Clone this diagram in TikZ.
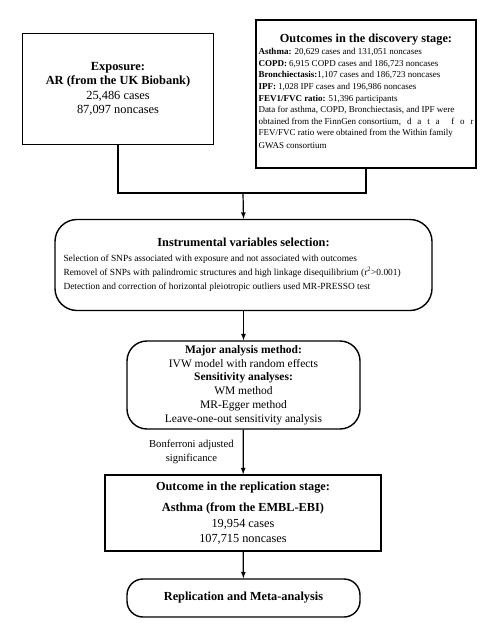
\documentclass[tikz,border=0pt]{standalone}
\usepackage{fontspec}
\setmainfont{Liberation Serif}
\usetikzlibrary{arrows}
\setlength{\parindent}{0pt}

\newcommand{\leftrow}[2]{\makebox[#1][l]{#2}}
\newcommand{\midrow}[2]{\makebox[#1][c]{#2}}

\begin{document}
\begin{tikzpicture}[
	x=1pt, y=-1pt, line width=1.2pt, >=latex,
	box/.style={draw, line width=1.4pt, align=center, inner sep=0pt},
	roundbox/.style={box, rounded corners=20pt},
	big/.style={font=\fontsize{12.4}{14.5}\selectfont},
	small/.style={font=\fontsize{9}{11.6}\selectfont}]
	%\draw [help lines] (0,0) grid[step=50] (498,637);
	\useasboundingbox (0,0) rectangle (498,637);
	\node [box, big, minimum width=191pt, minimum height=111pt] (expo) at (118,89)
		{\textbf{Exposure:}\\ \textbf{AR (from the UK Biobank)}\\ 25,486 cases\\ 87,097 noncases};
	\node [box, minimum width=220pt, minimum height=148pt] (outc) at (366,94) {};
	\node [small, align=left, inner sep=0pt] (outctext) at (366,91)
		{\midrow{215pt}{\fontsize{12.3}{14}\selectfont\textbf{Outcomes in the discovery stage:}}\\[1pt]%
		\leftrow{215pt}{\textbf{Asthma:} 20,629 cases and 131,051 noncases}\\
		\leftrow{215pt}{\textbf{COPD:} 6,915 COPD cases and 186,723 noncases}\\
		\leftrow{215pt}{\textbf{Bronchiectasis:}1,107 cases and 186,723 noncases}\\
		\leftrow{215pt}{\textbf{IPF:} 1,028 IPF cases and 196,986 noncases}\\
		\leftrow{215pt}{\textbf{FEV1/FVC ratio:} 51,396 participants}\\
		\leftrow{215pt}{Data for asthma, COPD, Bronchiectasis, and IPF were}\\
		\leftrow{215pt}{obtained from the FinnGen consortium,\hfill d\hfill a\hfill t\hfill a\hfill\hfill f\hfill o\hfill r}\\
		\leftrow{215pt}{FEV/FVC ratio were obtained from the Within family}\\[1pt]%
		\leftrow{215pt}{GWAS consortium}};
	\coordinate (join) at (243,193);
	\draw (expo.south) |- (join) -| (outc.south);
	\node [roundbox, rounded corners=22pt, minimum width=377pt, minimum height=91pt] (ivs) at (243.5,265) {};
	\node [font=\fontsize{9.4}{14.3}\selectfont, align=left, inner sep=0pt] (ivstext) at (243.5,265)
		{\midrow{360pt}{\fontsize{12.3}{14}\selectfont\textbf{Instrumental variables selection:}}\\
		\leftrow{360pt}{Selection of SNPs associated with exposure and not associated with outcomes}\\
		\leftrow{360pt}{Removel of SNPs with palindromic structures and high linkage disequilibrium (r\textsuperscript{2}>0.001)}\\
		\leftrow{360pt}{Detection and correction of horizontal pleiotropic outliers used MR-PRESSO test}};
	\draw [->] (join) -- (ivs.north);
	\node [roundbox, font=\fontsize{11.5}{13.8}\selectfont, minimum width=233pt, minimum height=88pt] (major) at (243.5,385)
		{\textbf{Major analysis method:}\\ IVW model with random effects\\ \textbf{Sensitivity analyses:}\\
		WM method\\ MR-Egger method\\ Leave-one-out sensitivity analysis};
	\draw [->] (ivs) -- (major);
	\node [box, font=\fontsize{12.3}{14.5}\selectfont, minimum width=276pt, minimum height=76pt] (repl) at (243,513)
		{\textbf{Outcome in the replication stage:}\\[6pt] \textbf{Asthma (from the EMBL-EBI)}\\[2pt]
		19,954 cases\\ 107,715 noncases};
	\draw [->] (major) -- node [left, font=\fontsize{10.6}{13.5}\selectfont, align=center, inner sep=0pt, xshift=-9pt] (bonf)
		{Bonferroni adjusted\\ significance} (repl);
	\node [roundbox, font=\fontsize{12.3}{14.5}\selectfont, rounded corners=16pt, minimum width=233pt, minimum height=38pt] (final) at (243.5,598)
		{\textbf{Replication and Meta-analysis}};
	\draw [->] (repl) -- (final);
\end{tikzpicture}
\end{document}
